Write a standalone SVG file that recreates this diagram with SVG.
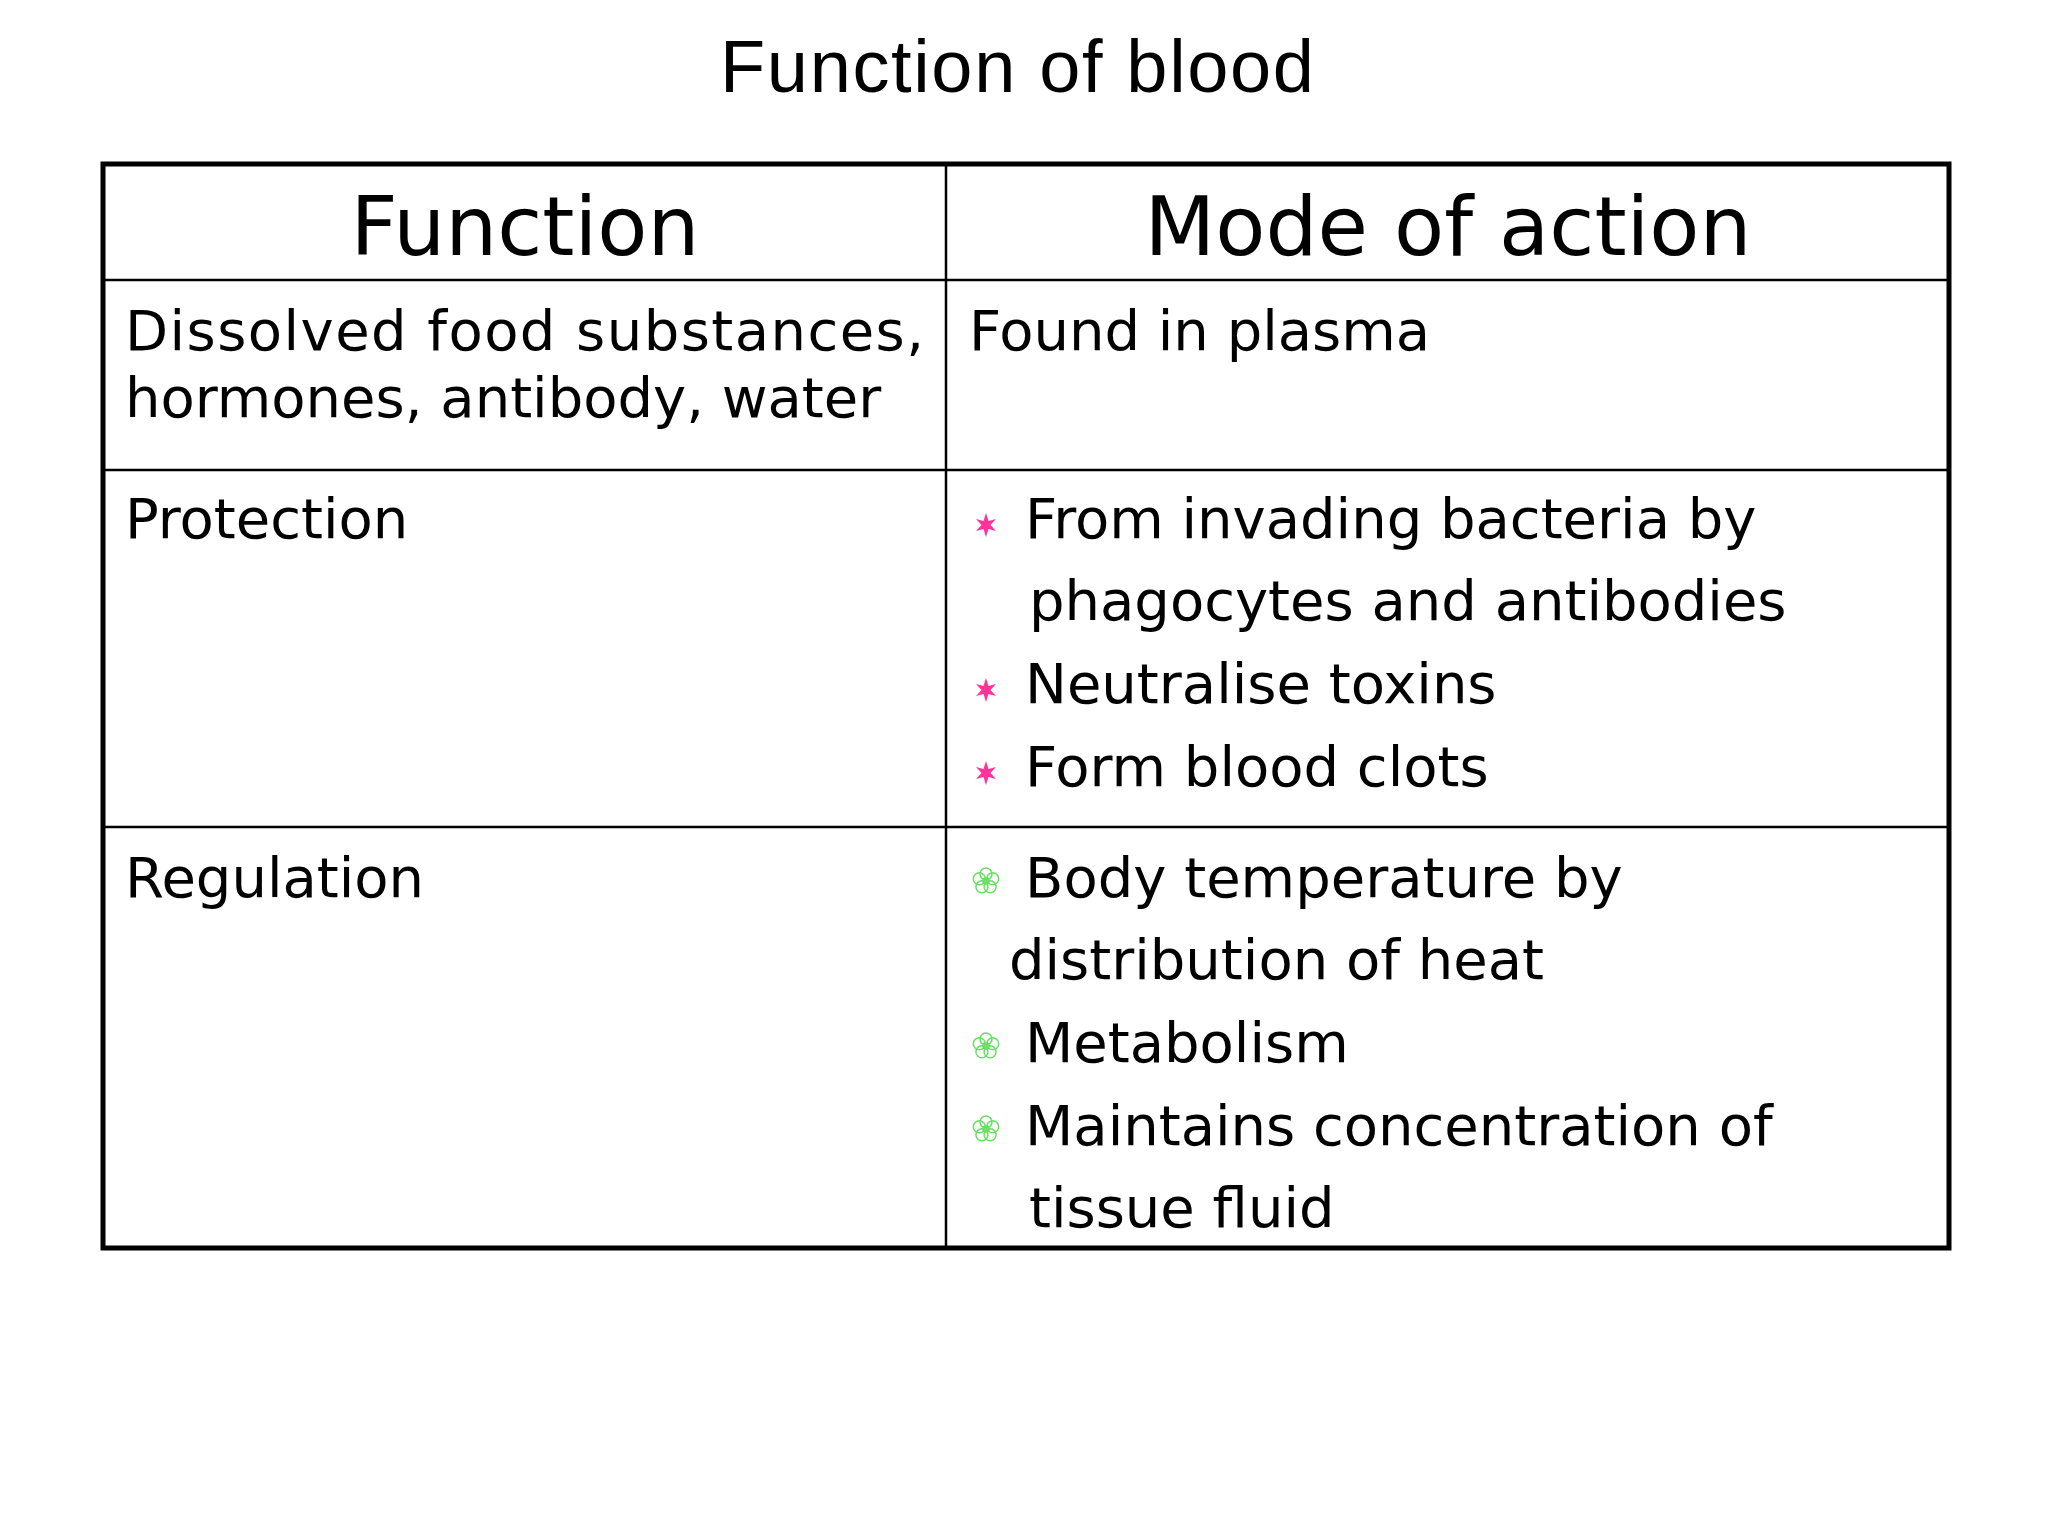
<svg xmlns="http://www.w3.org/2000/svg" width="2048" height="1536" viewBox="0 0 2048 1536">
<style>
.t{font-family:"DejaVu Sans",Verdana,sans-serif;font-size:56px;fill:#000}
.h{font-family:"DejaVu Sans",Verdana,sans-serif;font-size:82px;fill:#000;text-anchor:middle}
.g{stroke:#000;stroke-width:2.5}
</style>
<defs>
<path id="star" d="M0,-12 L2.5,-4 L10,-6 L4.5,0 L10,6 L2.5,4 L0,12 L-2.5,4 L-10,6 L-4.5,0 L-10,-6 L-2.5,-4 Z" fill="#ff3399"/>
<g id="flower" fill="none" stroke="#66e060" stroke-width="1.5">
<circle cx="0" cy="-7" r="6"/><circle cx="6.7" cy="-2.2" r="6"/><circle cx="4.1" cy="5.7" r="6"/><circle cx="-4.1" cy="5.7" r="6"/><circle cx="-6.7" cy="-2.2" r="6"/>
<circle cx="0" cy="0" r="3"/>
</g>
</defs>
<rect width="2048" height="1536" fill="#fff"/>
<text x="1017" y="92" font-family="Liberation Sans,Arial,sans-serif" font-size="74" text-anchor="middle" textLength="594">Function of blood</text>
<g id="table">
<rect x="103" y="164" width="1846" height="1084" fill="none" stroke="#000" stroke-width="5"/>
<line class="g" x1="946" y1="164" x2="946" y2="1248"/>
<line class="g" x1="103" y1="280" x2="1949" y2="280"/>
<line class="g" x1="103" y1="470" x2="1949" y2="470"/>
<line class="g" x1="103" y1="827" x2="1949" y2="827"/>
</g>
<g id="header">
<text class="h" x="525" y="255">Function</text>
<text class="h" x="1448" y="255">Mode of action</text>
</g>
<g id="row1">
<text class="t" x="125" y="350" textLength="799" lengthAdjust="spacing">Dissolved food substances,</text>
<text class="t" x="125" y="417">hormones, antibody, water</text>
<text class="t" x="969" y="350">Found in plasma</text>
</g>
<g id="row2">
<text class="t" x="125" y="538">Protection</text>
<use href="#star" x="986" y="525"/>
<text class="t" x="1025" y="538">From invading bacteria by</text>
<text class="t" x="1029" y="620">phagocytes and antibodies</text>
<use href="#star" x="986" y="690"/>
<text class="t" x="1025" y="703">Neutralise toxins</text>
<use href="#star" x="986" y="773"/>
<text class="t" x="1025" y="786">Form blood clots</text>
</g>
<g id="row3">
<text class="t" x="125" y="897">Regulation</text>
<use href="#flower" x="986" y="881"/>
<text class="t" x="1025" y="897">Body temperature by</text>
<text class="t" x="1009" y="979">distribution of heat</text>
<use href="#flower" x="986" y="1046"/>
<text class="t" x="1025" y="1062">Metabolism</text>
<use href="#flower" x="986" y="1129"/>
<text class="t" x="1025" y="1145">Maintains concentration of</text>
<text class="t" x="1029" y="1227">tissue fluid</text>
</g>
</svg>
